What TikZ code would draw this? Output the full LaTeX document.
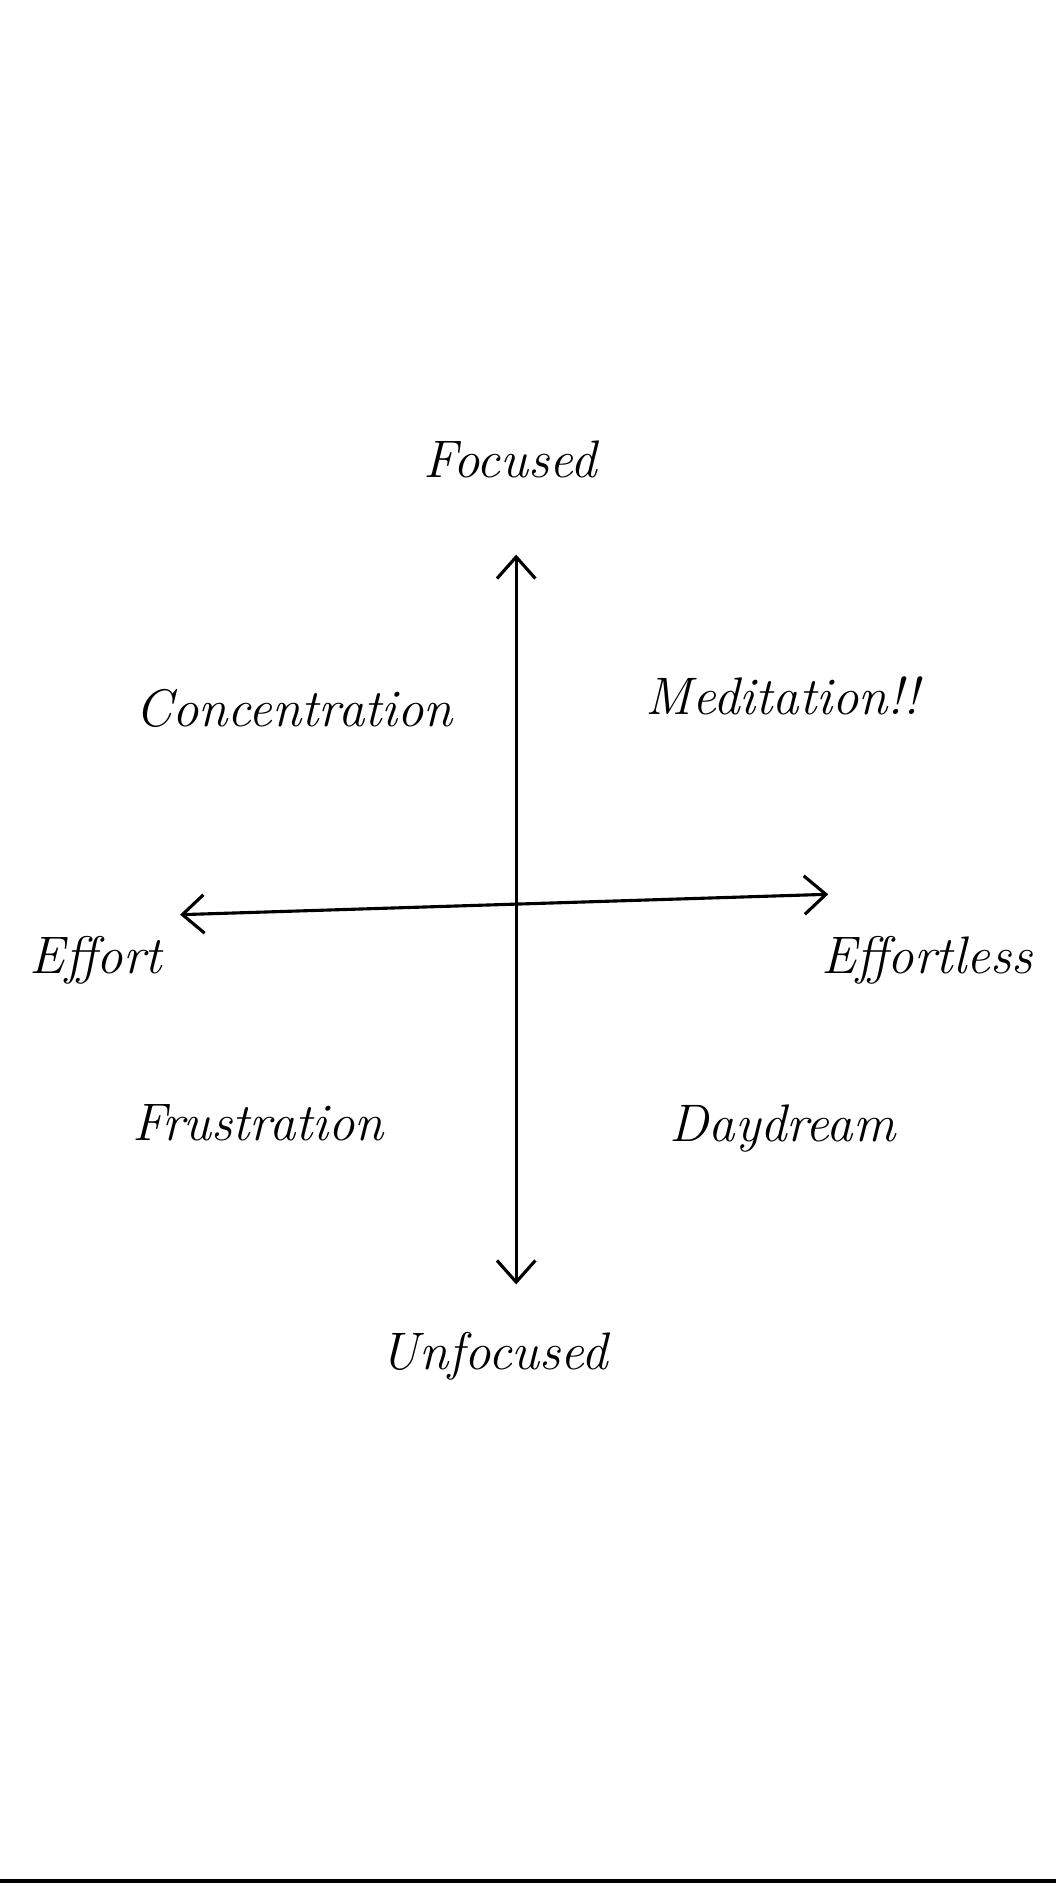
\documentclass[tikz,border=0pt]{standalone}
\usetikzlibrary{arrows.meta}
\begin{document}
\begin{tikzpicture}[x=0.5pt,y=-0.5pt,
  lbl/.style={font=\fontsize{22}{26}\selectfont\itshape, inner sep=0pt},
  axis/.style={line width=1.3pt, {Straight Barb[length=9pt,width=16pt]}-{Straight Barb[length=9pt,width=16pt]}}]
\useasboundingbox (0,0) rectangle (880,1572);
\fill[white] (0,0) rectangle (880,1572);
\node[lbl] (f) at (425,383) {Focused};
\node[lbl] (u) at (412,1130) {Unfocused};
\node[lbl] (e) at (80,800) {Effort};
\node[lbl] (el) at (772,800) {Effortless};
\node[lbl] (c) at (245,590) {Concentration};
\node[lbl] (m) at (652,580) {Meditation!!};
\node[lbl] (fr) at (215,935) {Frustration};
\node[lbl] (d) at (652,940) {Daydream};
\coordinate (top) at (430,462);
\coordinate (bot) at (430,1070);
\coordinate (l) at (150,762);
\coordinate (r) at (690,745);
\draw[axis] (bot) -- (top);
\draw[axis] (l) -- (r);
\coordinate (b1) at (0,1567);
\coordinate (b2) at (880,1567);
\draw[line width=2pt] (b1) -- (b2);
\end{tikzpicture}
\end{document}
